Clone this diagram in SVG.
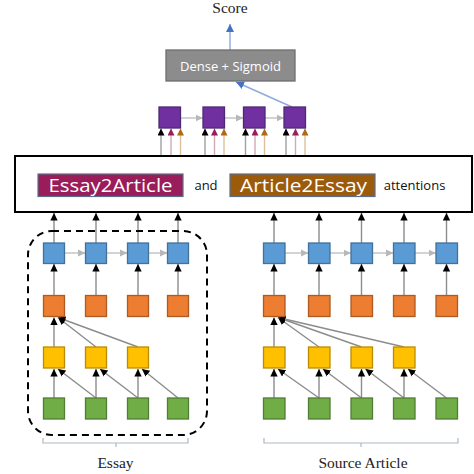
<svg xmlns="http://www.w3.org/2000/svg" width="474" height="474" viewBox="0 0 474 474">
<style>
.blue{fill:#5b9bd5;stroke:#41719c;stroke-width:1.3}
.orange{fill:#ed7d31;stroke:#ae5a21;stroke-width:1.3}
.yellow{fill:#ffc000;stroke:#bc8c00;stroke-width:1.3}
.green{fill:#70ad47;stroke:#507e32;stroke-width:1.3}
.purple{fill:#7030a0;stroke:#4e2a75;stroke-width:1.3}
.conn{stroke:#8c8c8c;stroke-width:1.4;fill:none}
.rec{stroke:#c0c0c0;stroke-width:1.4;fill:none}
.sans{font-family:"Open Sans","Liberation Sans",sans-serif}
.serif{font-family:"Liberation Serif","DejaVu Serif",serif;fill:#222}
.brk{stroke:#b0b8c6;stroke-width:1.2;fill:none}
</style>
<defs>
<marker id="ab" markerUnits="userSpaceOnUse" markerWidth="9" markerHeight="9" refX="7.5" refY="4" orient="auto"><path d="M0,0.3 L7.5,4 L0,7.7 z" fill="#000"/></marker>
<marker id="ag" markerUnits="userSpaceOnUse" markerWidth="8" markerHeight="8" refX="7.5" refY="4" orient="auto"><path d="M0,0.5 L7.5,4 L0,7.5 z" fill="#b8b8b8"/></marker>
<marker id="am" markerUnits="userSpaceOnUse" markerWidth="8" markerHeight="8" refX="7" refY="3.5" orient="auto"><path d="M0,0 L7,3.5 L0,7 z" fill="#9b1c5a"/></marker>
<marker id="an" markerUnits="userSpaceOnUse" markerWidth="8" markerHeight="8" refX="7" refY="3.5" orient="auto"><path d="M0,0 L7,3.5 L0,7 z" fill="#b06a12"/></marker>
<marker id="ak" markerUnits="userSpaceOnUse" markerWidth="8" markerHeight="8" refX="7" refY="3.5" orient="auto"><path d="M0,0 L7,3.5 L0,7 z" fill="#000"/></marker>
<marker id="abl" markerUnits="userSpaceOnUse" markerWidth="9" markerHeight="9" refX="8" refY="4" orient="auto"><path d="M0,0 L8,4 L0,8 z" fill="#4472c4"/></marker>
</defs>

<g id="connectors">
  <line x1="230" y1="50" x2="230" y2="24" stroke="#8faadc" stroke-width="1.4" marker-end="url(#abl)"/>
  <line x1="292" y1="107" x2="236" y2="82" stroke="#8faadc" stroke-width="1.4" marker-end="url(#abl)"/>
  <line class="rec" x1="181" y1="118" x2="203" y2="118" marker-end="url(#ag)"/>
  <line class="rec" x1="224.5" y1="118" x2="243.5" y2="118" marker-end="url(#ag)"/>
  <line class="rec" x1="265" y1="118" x2="284" y2="118" marker-end="url(#ag)"/>
  <g stroke-width="1.4">
    <line x1="161" y1="157" x2="161" y2="128.5" stroke="#a0a0a0" marker-end="url(#ak)"/>
    <line x1="171" y1="157" x2="171" y2="128.5" stroke="#d0a8b8" marker-end="url(#am)"/>
    <line x1="180.5" y1="157" x2="180.5" y2="128.5" stroke="#dcc09c" marker-end="url(#an)"/>
    <line x1="205" y1="157" x2="205" y2="128.5" stroke="#a0a0a0" marker-end="url(#ak)"/>
    <line x1="214.5" y1="157" x2="214.5" y2="128.5" stroke="#d0a8b8" marker-end="url(#am)"/>
    <line x1="224" y1="157" x2="224" y2="128.5" stroke="#dcc09c" marker-end="url(#an)"/>
    <line x1="245.5" y1="157" x2="245.5" y2="128.5" stroke="#a0a0a0" marker-end="url(#ak)"/>
    <line x1="255" y1="157" x2="255" y2="128.5" stroke="#d0a8b8" marker-end="url(#am)"/>
    <line x1="264.5" y1="157" x2="264.5" y2="128.5" stroke="#dcc09c" marker-end="url(#an)"/>
    <line x1="286" y1="157" x2="286" y2="128.5" stroke="#a0a0a0" marker-end="url(#ak)"/>
    <line x1="295.5" y1="157" x2="295.5" y2="128.5" stroke="#d0a8b8" marker-end="url(#am)"/>
    <line x1="305" y1="157" x2="305" y2="128.5" stroke="#dcc09c" marker-end="url(#an)"/>
  </g>
  <line class="conn" x1="54" y1="243" x2="54" y2="213" marker-end="url(#ab)"/>
  <line class="conn" x1="96" y1="243" x2="96" y2="213" marker-end="url(#ab)"/>
  <line class="conn" x1="138" y1="243" x2="138" y2="213" marker-end="url(#ab)"/>
  <line class="conn" x1="178" y1="243" x2="178" y2="213" marker-end="url(#ab)"/>
  <line class="conn" x1="274" y1="243" x2="274" y2="213" marker-end="url(#ab)"/>
  <line class="conn" x1="319" y1="243" x2="319" y2="213" marker-end="url(#ab)"/>
  <line class="conn" x1="361.5" y1="243" x2="361.5" y2="213" marker-end="url(#ab)"/>
  <line class="conn" x1="404" y1="243" x2="404" y2="213" marker-end="url(#ab)"/>
  <line class="conn" x1="446.5" y1="243" x2="446.5" y2="213" marker-end="url(#ab)"/>
  <line class="rec" x1="64.5" y1="253" x2="85.5" y2="253" marker-end="url(#ag)"/>
  <line class="rec" x1="106.5" y1="253" x2="127.5" y2="253" marker-end="url(#ag)"/>
  <line class="rec" x1="148.5" y1="253" x2="167.5" y2="253" marker-end="url(#ag)"/>
  <line class="rec" x1="285" y1="253" x2="308.5" y2="253" marker-end="url(#ag)"/>
  <line class="rec" x1="330" y1="253" x2="351" y2="253" marker-end="url(#ag)"/>
  <line class="rec" x1="372.5" y1="253" x2="393.5" y2="253" marker-end="url(#ag)"/>
  <line class="rec" x1="415" y1="253" x2="436" y2="253" marker-end="url(#ag)"/>
  <line class="conn" x1="54" y1="295.5" x2="54" y2="264" marker-end="url(#ab)"/>
  <line class="conn" x1="96" y1="295.5" x2="96" y2="264" marker-end="url(#ab)"/>
  <line class="conn" x1="138" y1="295.5" x2="138" y2="264" marker-end="url(#ab)"/>
  <line class="conn" x1="178" y1="295.5" x2="178" y2="264" marker-end="url(#ab)"/>
  <line class="conn" x1="274" y1="295.5" x2="274" y2="264" marker-end="url(#ab)"/>
  <line class="conn" x1="319" y1="295.5" x2="319" y2="264" marker-end="url(#ab)"/>
  <line class="conn" x1="361.5" y1="295.5" x2="361.5" y2="264" marker-end="url(#ab)"/>
  <line class="conn" x1="404" y1="295.5" x2="404" y2="264" marker-end="url(#ab)"/>
  <line class="conn" x1="446.5" y1="295.5" x2="446.5" y2="264" marker-end="url(#ab)"/>
  <line class="conn" x1="54" y1="347" x2="54" y2="317.5" marker-end="url(#ab)"/>
  <line class="conn" x1="96" y1="347" x2="58" y2="317.5" marker-end="url(#ab)"/>
  <line class="conn" x1="138" y1="347" x2="58" y2="317.5" marker-end="url(#ab)"/>
  <line class="conn" x1="274" y1="347" x2="274" y2="317.5" marker-end="url(#ab)"/>
  <line class="conn" x1="319" y1="347" x2="278" y2="317.5" marker-end="url(#ab)"/>
  <line class="conn" x1="361.5" y1="347" x2="278" y2="317.5" marker-end="url(#ab)"/>
  <line class="conn" x1="404" y1="347" x2="278" y2="317.5" marker-end="url(#ab)"/>
  <line class="conn" x1="54" y1="398" x2="54" y2="369" marker-end="url(#ab)"/>
  <line class="conn" x1="96" y1="398" x2="58" y2="369" marker-end="url(#ab)"/>
  <line class="conn" x1="96" y1="398" x2="96" y2="369" marker-end="url(#ab)"/>
  <line class="conn" x1="138" y1="398" x2="100" y2="369" marker-end="url(#ab)"/>
  <line class="conn" x1="138" y1="398" x2="138" y2="369" marker-end="url(#ab)"/>
  <line class="conn" x1="178" y1="398" x2="142" y2="369" marker-end="url(#ab)"/>
  <line class="conn" x1="274" y1="398" x2="274" y2="369" marker-end="url(#ab)"/>
  <line class="conn" x1="319" y1="398" x2="278" y2="369" marker-end="url(#ab)"/>
  <line class="conn" x1="319" y1="398" x2="319" y2="369" marker-end="url(#ab)"/>
  <line class="conn" x1="361.5" y1="398" x2="323" y2="369" marker-end="url(#ab)"/>
  <line class="conn" x1="361.5" y1="398" x2="361.5" y2="369" marker-end="url(#ab)"/>
  <line class="conn" x1="404" y1="398" x2="365.5" y2="369" marker-end="url(#ab)"/>
  <line class="conn" x1="404" y1="398" x2="404" y2="369" marker-end="url(#ab)"/>
  <line class="conn" x1="446.5" y1="398" x2="408" y2="369" marker-end="url(#ab)"/>
</g>

<g id="score"><text class="serif" x="230" y="13" font-size="15.5" text-anchor="middle">Score</text></g>

<g id="dense">
  <rect x="166" y="50" width="129" height="31" fill="#8c8c8c" stroke="#6e6e6e" stroke-width="1.3"/>
  <text class="sans" x="230.5" y="70.5" font-size="13" fill="#fff" text-anchor="middle">Dense + Sigmoid</text>
</g>

<g id="purple-rnn">
  <rect class="purple" x="159" y="107" width="21.5" height="21"/>
  <rect class="purple" x="203" y="107" width="21.5" height="21"/>
  <rect class="purple" x="243.5" y="107" width="21.5" height="21"/>
  <rect class="purple" x="284" y="107" width="21.5" height="21"/>
</g>

<g id="attention-band">
  <rect x="15" y="156" width="457" height="56" fill="#fff" stroke="#000" stroke-width="2"/>
  <rect x="38" y="174" width="145" height="22.5" fill="#9b1c5a" stroke="#5a6f8c" stroke-width="1.2"/>
  <text class="sans" x="110.5" y="192" font-size="19" fill="#fff" text-anchor="middle" textLength="124" lengthAdjust="spacingAndGlyphs">Essay2Article</text>
  <text class="sans" x="206" y="190" font-size="13" fill="#111" text-anchor="middle">and</text>
  <rect x="230" y="174" width="145" height="22.5" fill="#9c5a0b" stroke="#5a6f8c" stroke-width="1.2"/>
  <text class="sans" x="303.5" y="192" font-size="19" fill="#fff" text-anchor="middle" textLength="127" lengthAdjust="spacingAndGlyphs">Article2Essay</text>
  <text class="sans" x="414.5" y="190" font-size="13" fill="#111" text-anchor="middle">attentions</text>
</g>

<g id="essay-encoder">
  <rect x="28" y="231" width="179" height="204" rx="24" ry="24" fill="none" stroke="#000" stroke-width="2" stroke-dasharray="7 5"/>
  <rect class="blue" x="43.5" y="243" width="21" height="20.5"/>
  <rect class="blue" x="85.5" y="243" width="21" height="20.5"/>
  <rect class="blue" x="127.5" y="243" width="21" height="20.5"/>
  <rect class="blue" x="167.5" y="243" width="21" height="20.5"/>
  <rect class="orange" x="43.5" y="295.5" width="21" height="21"/>
  <rect class="orange" x="85.5" y="295.5" width="21" height="21"/>
  <rect class="orange" x="127.5" y="295.5" width="21" height="21"/>
  <rect class="orange" x="167.5" y="295.5" width="21" height="21"/>
  <rect class="yellow" x="43.5" y="347" width="21" height="21"/>
  <rect class="yellow" x="85.5" y="347" width="21" height="21"/>
  <rect class="yellow" x="127.5" y="347" width="21" height="21"/>
  <rect class="green" x="43.5" y="398" width="21" height="21"/>
  <rect class="green" x="85.5" y="398" width="21" height="21"/>
  <rect class="green" x="127.5" y="398" width="21" height="21"/>
  <rect class="green" x="167.5" y="398" width="21" height="21"/>
</g>

<g id="article-encoder">
  <rect class="blue" x="263.5" y="243" width="21.5" height="20.5"/>
  <rect class="blue" x="308.5" y="243" width="21.5" height="20.5"/>
  <rect class="blue" x="351" y="243" width="21.5" height="20.5"/>
  <rect class="blue" x="393.5" y="243" width="21.5" height="20.5"/>
  <rect class="blue" x="436" y="243" width="21.5" height="20.5"/>
  <rect class="orange" x="263.5" y="295.5" width="21.5" height="21"/>
  <rect class="orange" x="308.5" y="295.5" width="21.5" height="21"/>
  <rect class="orange" x="351" y="295.5" width="21.5" height="21"/>
  <rect class="orange" x="393.5" y="295.5" width="21.5" height="21"/>
  <rect class="orange" x="436" y="295.5" width="21.5" height="21"/>
  <rect class="yellow" x="263.5" y="347" width="21.5" height="21"/>
  <rect class="yellow" x="308.5" y="347" width="21.5" height="21"/>
  <rect class="yellow" x="351" y="347" width="21.5" height="21"/>
  <rect class="yellow" x="393.5" y="347" width="21.5" height="21"/>
  <rect class="green" x="263.5" y="398" width="21.5" height="21"/>
  <rect class="green" x="308.5" y="398" width="21.5" height="21"/>
  <rect class="green" x="351" y="398" width="21.5" height="21"/>
  <rect class="green" x="393.5" y="398" width="21.5" height="21"/>
  <rect class="green" x="436" y="398" width="21.5" height="21"/>
</g>

<g id="essay-label">
  <path class="brk" d="M43,438 L43,443 L188,443 L188,438 M116,443 L116,447"/>
  <text class="serif" x="115.5" y="468" font-size="15.5" text-anchor="middle">Essay</text>
</g>
<g id="article-label">
  <path class="brk" d="M264,438 L264,443 L458,443 L458,438 M361,443 L361,447"/>
  <text class="serif" x="363" y="468" font-size="15.5" text-anchor="middle">Source Article</text>
</g>
</svg>
